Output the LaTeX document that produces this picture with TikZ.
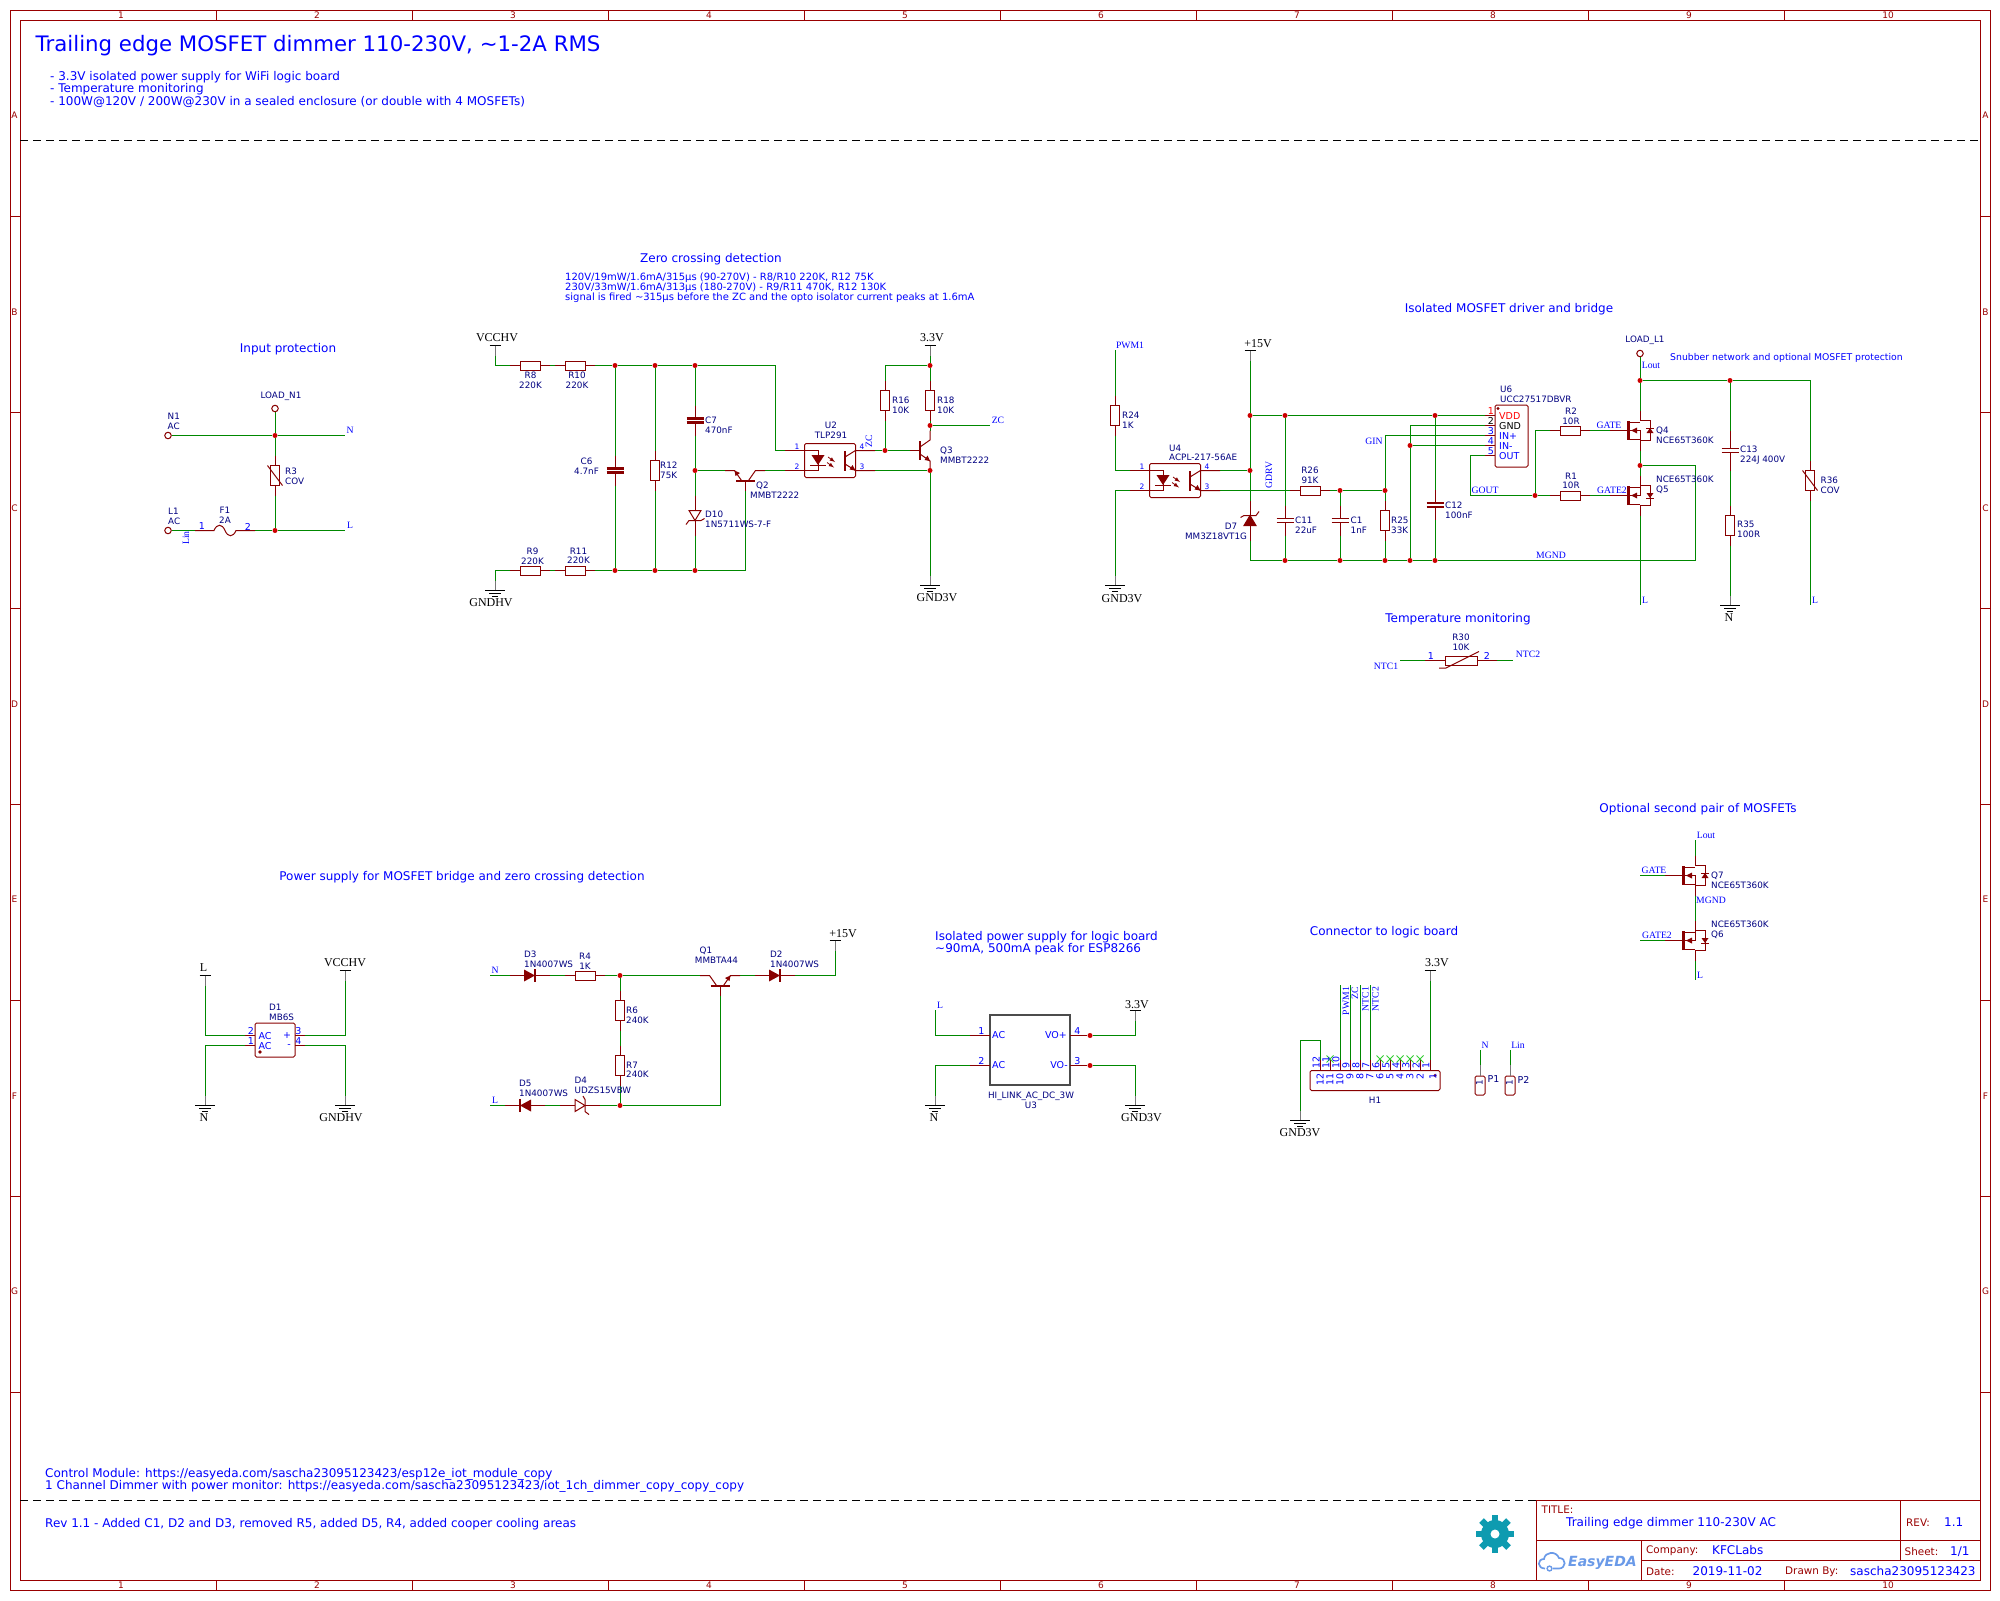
\documentclass[tikz,border=0pt]{standalone}
\usepackage{fontspec}
\setmainfont{DejaVu Sans}
\newfontfamily\netfont{Liberation Serif}
\definecolor{wirecol}{HTML}{008800}
\definecolor{partcol}{HTML}{880000}
\definecolor{framecol}{HTML}{990000}
\definecolor{dotcol}{HTML}{CC0000}
\definecolor{navycol}{HTML}{000080}
\definecolor{bluecol}{HTML}{0000FF}
\definecolor{flagcol}{HTML}{777777}
\definecolor{ncgreen}{HTML}{33CC33}
\definecolor{gearcol}{HTML}{0E9BB0}
\definecolor{logocol}{HTML}{6A9AE8}
\pgfdeclarelayer{back}
\pgfsetlayers{back,main}
\tikzset{
 wire/.style={draw=wirecol, line width=1pt},
 pinline/.style={draw=partcol, line width=1pt},
 flagline/.style={draw=flagcol, line width=1pt},
 barline/.style={draw=partcol, line width=2pt},
 frameline/.style={draw=framecol, line width=1pt},
 sepline/.style={draw=black, line width=1pt, dash pattern=on 8pt off 5pt},
 junction/.style={circle, fill=dotcol, inner sep=0pt, minimum size=5pt},
 term/.style={circle, draw=partcol, fill=white, line width=1pt, inner sep=0pt, minimum size=6.5pt},
 resbox/.style={rectangle, draw=partcol, fill=white, line width=1pt, inner sep=0pt, minimum width=20pt, minimum height=9pt},
 icbox/.style={rectangle, draw=partcol, line width=1pt, rounded corners=1.5pt, inner sep=0pt},
 partlabel/.style={font=\fontsize{8.8}{9.6}\selectfont, text=navycol, align=left, anchor=west, inner sep=0pt},
 midlabel/.style={partlabel, align=center, anchor=center},
 netlabel/.style={font=\netfont\fontsize{9.7}{10}\selectfont, text=bluecol, inner sep=0pt},
 flaglabel/.style={font=\netfont\fontsize{12}{12}\selectfont, text=black, inner sep=0pt, yshift=-0.8pt},
 pinnum/.style={font=\fontsize{9.5}{10}\selectfont, text=bluecol, inner sep=0pt},
 tinynum/.style={font=\fontsize{7.5}{8}\selectfont, text=bluecol, inner sep=0pt},
 inlabel/.style={font=\fontsize{9.5}{10}\selectfont, text=bluecol, inner sep=0pt, anchor=west},
 secttitle/.style={font=\fontsize{12}{12}\selectfont, text=bluecol, inner sep=0pt, yshift=-1pt},
 sectnote/.style={font=\fontsize{9.3}{10}\selectfont, text=bluecol, inner sep=0pt, anchor=west, align=left, yshift=-1pt},
 bignote/.style={font=\fontsize{12}{12}\selectfont, text=bluecol, inner sep=0pt, anchor=west, align=left, yshift=-1pt},
 framelbl/.style={font=\fontsize{9}{9}\selectfont, text=framecol, inner sep=0pt},
 tblbl/.style={font=\fontsize{10.4}{10.4}\selectfont, text=framecol, inner sep=0pt, anchor=west},
 tbval/.style={font=\fontsize{12}{12}\selectfont, text=bluecol, inner sep=0pt, anchor=west},
 hres/.pic={
  \node[resbox] (-box) at (0,0) {};
  \draw[pinline] (-box.west) -- (-20,0) coordinate (-a);
  \draw[pinline] (-box.east) -- (20,0) coordinate (-b);
 },
 vres/.pic={
  \node[resbox, minimum width=9pt, minimum height=20pt] (-box) at (0,0) {};
  \draw[pinline] (-box.north) -- (0,-20) coordinate (-a);
  \draw[pinline] (-box.south) -- (0,20) coordinate (-b);
 },
 varistor/.pic={
  \node[resbox, minimum width=9pt, minimum height=20pt] (-box) at (0,0) {};
  \draw[pinline] (-box.north) -- (0,-20) coordinate (-a);
  \draw[pinline] (-box.south) -- (0,20) coordinate (-b);
  \draw[pinline] (-7.5,-10) -- (7.5,10);
 },
 ntcres/.pic={
  \node[resbox, minimum width=32pt] (-box) at (0,0) {};
  \draw[pinline] (-box.west) -- (-36,0) coordinate (-a);
  \draw[pinline] (-box.east) -- (36,0) coordinate (-b);
  \draw[pinline] (-22,7.5) -- (-15,7.5) -- (18,-9);
 },
 fuse/.pic={
  \draw[pinline] (-30,0) coordinate (-a) -- (-11,0) .. controls (-8,-7) and (-3,-7) .. (0,0)
   .. controls (3,7) and (8,7) .. (11,0) -- (30,0) coordinate (-b);
 },
 diode/.pic={
  \fill[partcol] (-6,-6) -- (5,0) -- (-6,6) -- cycle;
  \draw[pinline, line width=1.6pt] (5,-6.5) -- (5,6.5);
  \draw[pinline] (-20,0) coordinate (-a) -- (-6,0) (5,0) -- (20,0) coordinate (-b);
 },
 pics/zener/.style={code={
  \path[draw=partcol, fill=#1, line width=1pt] (-5,-6) -- (5,0) -- (-5,6) -- cycle;
  \draw[pinline] (3,-9.5) -- (5,-6) -- (5,6) -- (9,9);
  \draw[pinline] (-20,0) coordinate (-a) -- (-5,0) (5,0) -- (20,0) coordinate (-b);
 }},
 pics/vcap/.style 2 args={code={
  \draw[partcol, line width=#1] (-8.5,-2.2) -- (8.5,-2.2) (-8.5,2.2) -- (8.5,2.2);
  \draw[pinline] (0,-#2) coordinate (-a) -- (0,-2.2) (0,2.2) -- (0,#2) coordinate (-b);
 }},
 bjt/.pic={
  \draw[barline] (0,-9.5) -- (0,9.5);
  \draw[pinline] (-10,0) coordinate (-b) -- (0,0);
  \draw[pinline] (0,-3.5) -- (10,-10.5) -- (10,-20) coordinate (-c);
  \draw[pinline] (0,3.5) -- (10,10.5) -- (10,20) coordinate (-e);
  \fill[partcol] (10,10.5) -- (4.5,9.5) -- (7.5,5) -- cycle;
 },
 mosfet/.pic={
  \draw[pinline] (-30,0) coordinate (-g) -- (-10,0);
  \draw[barline, line width=2.5pt] (-11.5,-9.5) -- (-11.5,9.5);
  \draw[pinline] (-10,-8.5) -- (0,-8.5) (-10,8.5) -- (0,8.5) (-10,0) -- (0,0) -- (0,10);
  \draw[pinline] (0,-20) coordinate (-d) -- (0,-10) -- (10,-10) -- (10,10) -- (0,10) -- (0,20) coordinate (-s);
  \fill[partcol] (-9,0) -- (-3,-3) -- (-3,3) -- cycle;
  \fill[partcol] (6.5,2.5) -- (13.5,2.5) -- (10,-2.5) -- cycle;
  \draw[pinline] (6,-2.5) -- (14,-2.5);
 },
 opto/.pic={
  \node[icbox, minimum width=51pt, minimum height=34pt] (-box) at (0,0) {};
  \draw[pinline] (-45,-10) coordinate (-p1) -- (-12,-10) -- (-12,10) -- (-45,10) coordinate (-p2);
  \fill[partcol] (-18.5,-5.5) -- (-5.5,-5.5) -- (-12,4.5) -- cycle;
  \draw[pinline] (-20,4.5) -- (-4,4.5);
  \draw[pinline, line width=0.8pt, -latex] (-2,-3.5) -- (5,1.5);
  \draw[pinline, line width=0.8pt, -latex] (-3,2) -- (4,7);
  \draw[barline] (15,-9.5) -- (15,10);
  \draw[pinline] (15,-3.5) -- (25.5,-10) -- (45,-10) coordinate (-p4);
  \draw[pinline] (15,3.5) -- (25.5,10) -- (45,10) coordinate (-p3);
  \fill[partcol] (25.5,10) -- (19.5,9) -- (22.5,4.5) -- cycle;
 },
 pwrflag/.pic={
  \draw[draw=black, line width=1pt] (-5.5,0) -- (5.5,0);
  \draw[flagline] (0,0) -- (0,10) coordinate (-p);
 },
 gndflag/.pic={
  \draw[flagline] (0,-10) coordinate (-p) -- (0,0);
  \draw[draw=black, line width=1pt] (-10,0) -- (10,0) (-6,3) -- (6,3) (-3,6) -- (3,6);
 },
}
\begin{document}
\begin{tikzpicture}[x=1pt, y=-1pt]
\useasboundingbox (0,0) rectangle (2000,1601);

 %%Paramaters
%% rails of the zero crossing part and of the driver, can be modified
\def\topRail{365.5}
\def\botRail{570.5}
\def\driverRail{560.5}

 %% ***Sheet frame***

\draw[frameline] (10,10.5) rectangle (1990,1590.5);
\draw[frameline] (20,20.5) rectangle (1980,1580.5);
\draw[frameline] (216,10.5) -- (216,20.5) (412,10.5) -- (412,20.5) (608,10.5) -- (608,20.5) (804,10.5) -- (804,20.5) (1000,10.5) -- (1000,20.5) (1196,10.5) -- (1196,20.5) (1392,10.5) -- (1392,20.5) (1588,10.5) -- (1588,20.5) (1784,10.5) -- (1784,20.5);
\draw[frameline] (216,1580.5) -- (216,1590.5) (412,1580.5) -- (412,1590.5) (608,1580.5) -- (608,1590.5) (804,1580.5) -- (804,1590.5) (1000,1580.5) -- (1000,1590.5) (1196,1580.5) -- (1196,1590.5) (1392,1580.5) -- (1392,1590.5) (1588,1580.5) -- (1588,1590.5) (1784,1580.5) -- (1784,1590.5);
\draw[frameline] (10,216.5) -- (20,216.5) (10,412.5) -- (20,412.5) (10,608.5) -- (20,608.5) (10,804.5) -- (20,804.5) (10,1000.5) -- (20,1000.5) (10,1196.5) -- (20,1196.5) (10,1392.5) -- (20,1392.5);
\draw[frameline] (1980,216.5) -- (1990,216.5) (1980,412.5) -- (1990,412.5) (1980,608.5) -- (1990,608.5) (1980,804.5) -- (1990,804.5) (1980,1000.5) -- (1990,1000.5) (1980,1196.5) -- (1990,1196.5) (1980,1392.5) -- (1990,1392.5);

\node[framelbl] (top1) at (121,15.5) {1}; \node[framelbl] (bot1) at (121,1585.5) {1};
\node[framelbl] (top2) at (317,15.5) {2}; \node[framelbl] (bot2) at (317,1585.5) {2};
\node[framelbl] (top3) at (513,15.5) {3}; \node[framelbl] (bot3) at (513,1585.5) {3};
\node[framelbl] (top4) at (709,15.5) {4}; \node[framelbl] (bot4) at (709,1585.5) {4};
\node[framelbl] (top5) at (905,15.5) {5}; \node[framelbl] (bot5) at (905,1585.5) {5};
\node[framelbl] (top6) at (1101,15.5) {6}; \node[framelbl] (bot6) at (1101,1585.5) {6};
\node[framelbl] (top7) at (1297,15.5) {7}; \node[framelbl] (bot7) at (1297,1585.5) {7};
\node[framelbl] (top8) at (1493,15.5) {8}; \node[framelbl] (bot8) at (1493,1585.5) {8};
\node[framelbl] (top9) at (1689,15.5) {9}; \node[framelbl] (bot9) at (1689,1585.5) {9};
\node[framelbl] (top10) at (1888,15.5) {10}; \node[framelbl] (bot10) at (1888,1585.5) {10};
\node[framelbl] (lefta) at (14.5,115) {A}; \node[framelbl] (righta) at (1985.5,115) {A};
\node[framelbl] (leftb) at (14.5,312) {B}; \node[framelbl] (rightb) at (1985.5,312) {B};
\node[framelbl] (leftc) at (14.5,508) {C}; \node[framelbl] (rightc) at (1985.5,508) {C};
\node[framelbl] (leftd) at (14.5,704) {D}; \node[framelbl] (rightd) at (1985.5,704) {D};
\node[framelbl] (lefte) at (14.5,899) {E}; \node[framelbl] (righte) at (1985.5,899) {E};
\node[framelbl] (leftf) at (14.5,1096) {F}; \node[framelbl] (rightf) at (1985.5,1096) {F};
\node[framelbl] (leftg) at (14.5,1291) {G}; \node[framelbl] (rightg) at (1985.5,1291) {G};

\draw[sepline] (20,140.5) -- (1980,140.5);
\draw[sepline] (20,1500.5) -- (1536,1500.5);

\node[secttitle, anchor=west, font=\fontsize{21.3}{21.3}\selectfont] (maintitle) at (35.5,44.5) {Trailing edge MOSFET dimmer 110-230V, \textasciitilde1-2A RMS};
\node[bignote] (featline1) at (50,76.5) {- 3.3V isolated power supply for WiFi logic board};
\node[bignote] (featline2) at (50,88.5) {- Temperature monitoring};
\node[bignote] (featline3) at (50,100.5) {- 100W@120V / 200W@230V in a sealed enclosure (or double with 4 MOSFETs)};
\node[bignote] (linkline1) at (45,1473.5) {Control Module: https://easyeda.com/sascha23095123423/esp12e\_iot\_module\_copy};
\node[bignote] (linkline2) at (45,1485.5) {1 Channel Dimmer with power monitor: https://easyeda.com/sascha23095123423/iot\_1ch\_dimmer\_copy\_copy\_copy};
\node[bignote] (revline) at (45,1523) {Rev 1.1 - Added C1, D2 and D3, removed R5, added D5, R4, added cooper cooling areas};

 %% ***Title block***

\draw[frameline] (1536,1500.5) -- (1980,1500.5) (1536,1500.5) -- (1536,1580.5) (1536,1540.5) -- (1980,1540.5) (1900,1500.5) -- (1900,1560.5) (1641,1540.5) -- (1641,1580.5) (1641,1560.5) -- (1980,1560.5);
\node[tblbl] (tbtitle) at (1541.5,1510) {TITLE:};
\node[tbval] (tbname) at (1566,1523) {Trailing edge dimmer 110-230V AC};
\node[tblbl] (tbrev) at (1906,1523) {REV:};
\node[tbval] (tbrevval) at (1944,1522) {1.1};
\node[tblbl] (tbcomp) at (1646,1550.5) {Company:};
\node[tbval] (tbcompval) at (1712,1550) {KFCLabs};
\node[tblbl] (tbsheet) at (1904.5,1552) {Sheet:};
\node[tbval] (tbsheetval) at (1950,1551.5) {1/1};
\node[tblbl] (tbdate) at (1646,1571.5) {Date:};
\node[tbval] (tbdateval) at (1692.5,1571.5) {2019-11-02};
\node[tblbl] (tbdrawn) at (1785,1571.5) {Drawn By:};
\node[tbval] (tbdrawnval) at (1850,1571.5) {sascha23095123423};

%% logo and gear
\draw[logocol, line width=1.7pt] (1545,1568.5) .. controls (1537,1568.5) and (1537,1559) .. (1544,1559) .. controls (1545,1551.5) and (1556,1550.5) .. (1559,1558) .. controls (1567,1558) and (1566,1568.5) .. (1559,1568.5) -- (1553,1568.5);
\draw[logocol, line width=1.4pt] (1549.5,1568.5) circle (2.4);
\node[inner sep=0pt, anchor=west, text=logocol, font=\fontsize{14}{14}\selectfont\bfseries\itshape] (logotext) at (1568,1563) {EasyEDA};
\fill[gearcol] (1495,1534) circle (14);
\draw[gearcol, line width=6.5pt] (1495,1515) -- (1495,1553);
\draw[gearcol, line width=6.5pt] (1476,1534) -- (1514,1534);
\draw[gearcol, line width=6.5pt] (1481.5,1520.5) -- (1508.5,1547.5);
\draw[gearcol, line width=6.5pt] (1481.5,1547.5) -- (1508.5,1520.5);
\fill[white] (1495,1534) circle (4.5);

 %% ***Input protection***

\node[secttitle] (inptitle) at (288,348) {Input protection};
\node[term] (n1) at (168,435.5) {};
\node[term] (loadn) at (275,408.5) {};
\node[term] (l1) at (168,530.5) {};
\node[junction] (jn) at (275,435.5) {};
\node[junction] (jl) at (275,530.5) {};
\coordinate (nout) at (345,435.5);
\coordinate (lout) at (345,530.5);
\pic (r3) at (275,475.5) {varistor};
\pic (f1) at (225,530.5) {fuse};
\node[midlabel] (loadnlbl) at (281,396) {LOAD\_N1};
\node[partlabel] (n1lbl) at (167.5,421.5) {N1\\AC};
\node[partlabel] (l1lbl) at (168,516.5) {L1\\AC};
\node[partlabel] (r3lbl) at (285,476) {R3\\COV};
\node[midlabel] (f1lbl) at (225,515) {F1\\2A};
\node[pinnum] (f1pin1) at (202,526.5) {1};
\node[pinnum] (f1pin2) at (248,526.5) {2};
\node[netlabel] (nnet) at (350,430) {N};
\node[netlabel] (lnet) at (350,525) {L};
\node[netlabel, rotate=90] (linnet) at (186,538) {Lin};
\begin{pgfonlayer}{back}
\draw[wire] (n1) -- (jn) -- (nout);
\draw[wire] (loadn) -- (jn) -- (r3-a);
\draw[wire] (r3-b) -- (jl);
\draw[wire] (l1) -- (f1-a);
\draw[wire] (f1-b) -- (jl) -- (lout);
\end{pgfonlayer}

 %% ***Zero crossing detection***

\node[secttitle] (zctitle) at (711,258) {Zero crossing detection};
\node[sectnote, font=\fontsize{10}{10}\selectfont] (zcnote) at (565,287) {120V/19mW/1.6mA/315µs (90-270V) - R8/R10 220K, R12 75K\\230V/33mW/1.6mA/313µs (180-270V) - R9/R11 470K, R12 130K\\signal is fired \textasciitilde315µs before the ZC and the opto isolator current peaks at 1.6mA};

\pic (vcchv) at (495,345.5) {pwrflag};
\pic (gndhv) at (495,590.5) {gndflag};
\pic (v33a) at (930,345.5) {pwrflag};
\pic (gnd3a) at (930,585.5) {gndflag};
\node[flaglabel] (vcchvlbl) at (497,337) {VCCHV};
\node[flaglabel] (gndhvlbl) at (491,602) {GNDHV};
\node[flaglabel] (v33albl) at (932,337) {3.3V};
\node[flaglabel] (gnd3albl) at (937,597) {GND3V};

\pic (r8) at (530,\topRail) {hres};
\pic (r10) at (575,\topRail) {hres};
\pic (r9) at (530,\botRail) {hres};
\pic (r11) at (575,\botRail) {hres};
\pic (c6) at (615,470.5) {vcap={2.8pt}{15}};
\pic (r12) at (655,470.5) {vres};
\pic (c7) at (695,420.5) {vcap={2.8pt}{15}};
\pic[rotate=-90] (d10) at (695,515.5) {zener=white};
\pic[rotate=90, yscale=-1] (q2) at (745,480.5) {bjt};
\pic (u2) at (830,460.5) {opto};
\pic (r16) at (885,400.5) {vres};
\pic (r18) at (930,400.5) {vres};
\pic (q3) at (920,450.5) {bjt};

\node[junction] (jt1) at (615,\topRail) {};
\node[junction] (jt2) at (655,\topRail) {};
\node[junction] (jt3) at (695,\topRail) {};
\node[junction] (jb1) at (615,\botRail) {};
\node[junction] (jb2) at (655,\botRail) {};
\node[junction] (jb3) at (695,\botRail) {};
\node[junction] (jm) at (695,470.5) {};
\node[junction] (jq) at (885,450.5) {};
\node[junction] (jr) at (930,\topRail) {};
\node[junction] (jz) at (930,425.5) {};
\node[junction] (je) at (930,470.5) {};
\coordinate (cz) at (775,\topRail);
\coordinate (zcout) at (990,425.5);

\node[midlabel] (r8lbl) at (530.5,380.5) {R8\\220K};
\node[midlabel] (r10lbl) at (577,380.5) {R10\\220K};
\node[midlabel] (r9lbl) at (532.5,556) {R9\\220K};
\node[midlabel] (r11lbl) at (578.5,556) {R11\\220K};
\node[midlabel] (c6lbl) at (586.5,466) {C6\\4.7nF};
\node[partlabel] (r12lbl) at (660,470.5) {R12\\75K};
\node[partlabel] (c7lbl) at (705,425) {C7\\470nF};
\node[partlabel] (d10lbl) at (705,519.5) {D10\\1N5711WS-7-F};
\node[partlabel] (q2lbl) at (750,490.5) {\hspace{6pt}Q2\\MMBT2222};
\node[midlabel] (u2lbl) at (831,430.5) {U2\\TLP291};
\node[partlabel] (r16lbl) at (892,405) {R16\\10K};
\node[partlabel] (r18lbl) at (937,405) {R18\\10K};
\node[partlabel] (q3lbl) at (940,455.5) {Q3\\MMBT2222};
\node[tinynum] (u2pin1) at (797,447) {1};
\node[tinynum] (u2pin2) at (797,467) {2};
\node[tinynum] (u2pin4) at (862,447) {4};
\node[tinynum] (u2pin3) at (862,467) {3};
\node[netlabel, rotate=90] (zcnet1) at (869,441) {ZC};
\node[netlabel] (zcnet2) at (998,420) {ZC};

\begin{pgfonlayer}{back}
\draw[wire] (vcchv-p) |- (r8-a);
\draw[wire] (r8-b) -- (r10-a);
\draw[wire] (r10-b) -- (jt1) -- (jt2) -- (jt3) -- (cz) |- (u2-p1);
\draw[wire] (gndhv-p) |- (r9-a);
\draw[wire] (r9-b) -- (r11-a);
\draw[wire] (r11-b) -- (jb1) -- (jb2) -- (jb3) -| (q2-b);
\draw[wire] (jt1) -- (c6-a);
\draw[wire] (c6-b) -- (jb1);
\draw[wire] (jt2) -- (r12-a);
\draw[wire] (r12-b) -- (jb2);
\draw[wire] (jt3) -- (c7-a);
\draw[wire] (c7-b) -- (jm) -- (d10-a);
\draw[wire] (d10-b) -- (jb3);
\draw[wire] (jm) -- (q2-e);
\draw[wire] (q2-c) -- (u2-p2);
\draw[wire] (u2-p4) -- (jq) -- (q3-b);
\draw[wire] (jq) -- (r16-b);
\draw[wire] (r16-a) |- (jr);
\draw[wire] (v33a-p) -- (jr) -- (r18-a);
\draw[wire] (r18-b) -- (jz) -- (q3-c);
\draw[wire] (jz) -- (zcout);
\draw[wire] (u2-p3) -- (je);
\draw[wire] (q3-e) -- (je) -- (gnd3a-p);
\end{pgfonlayer}

 %% ***Isolated MOSFET driver and bridge***

\node[secttitle] (drvtitle) at (1509,308.5) {Isolated MOSFET driver and bridge};
\node[sectnote] (snubnote) at (1670,357) {Snubber network and optional MOSFET protection};

\coordinate (pwmin) at (1115,350);
\pic (r24) at (1115,415.5) {vres};
\pic (u4) at (1175,480.5) {opto};
\pic (gnd3b) at (1115,585.5) {gndflag};
\pic (v15a) at (1250,350.5) {pwrflag};
\pic[rotate=90] (d7) at (1250,520.5) {zener=partcol};
\pic (c11) at (1285,520.5) {vcap={1.5pt}{15}};
\pic (r26) at (1310,490.5) {hres};
\pic (c1) at (1340,520.5) {vcap={1.5pt}{15}};
\pic (r25) at (1385,520.5) {vres};
\pic (c12) at (1435,505) {vcap={1.5pt}{15}};
\pic (r2) at (1570,430.5) {hres};
\pic (r1) at (1570,495.5) {hres};
\pic (q4) at (1640,430.5) {mosfet};
\pic[yscale=-1] (q5) at (1640,495.5) {mosfet};
\pic (c13) at (1730,450.5) {vcap={1.5pt}{20}};
\pic (r35) at (1730,525.5) {vres};
\pic (ngnda) at (1730,605.5) {gndflag};
\pic (r36) at (1810,480.5) {varistor};
\node[term] (loadl) at (1640,353.5) {};

\node[icbox, minimum width=33pt, minimum height=62pt] (u6) at (1511.5,436) {};
\draw[pinline] (1495,415.5) -- (1485,415.5) coordinate (u6p1);
\draw[pinline] (1495,425.5) -- (1485,425.5) coordinate (u6p2);
\draw[pinline] (1495,435.5) -- (1485,435.5) coordinate (u6p3);
\draw[pinline] (1495,445.5) -- (1485,445.5) coordinate (u6p4);
\draw[pinline] (1495,455.5) -- (1485,455.5) coordinate (u6p5);
\fill[partcol] (1498,408.5) circle (1.7);

\node[junction] (jv0) at (1250,415.5) {};
\node[junction] (jv1) at (1285,415.5) {};
\node[junction] (jv2) at (1435,415.5) {};
\node[junction] (jo) at (1250,470.5) {};
\node[junction] (jc1) at (1340,490.5) {};
\node[junction] (jg) at (1385,490.5) {};
\node[junction] (jg2) at (1410,445.5) {};
\node[junction] (jr1) at (1285,\driverRail) {};
\node[junction] (jr2) at (1340,\driverRail) {};
\node[junction] (jr3) at (1385,\driverRail) {};
\node[junction] (jr4) at (1410,\driverRail) {};
\node[junction] (jr5) at (1435,\driverRail) {};
\node[junction] (jg3) at (1535,495.5) {};
\node[junction] (js) at (1640,380.5) {};
\node[junction] (js2) at (1730,380.5) {};
\node[junction] (jmg) at (1640,465.5) {};
\coordinate (cg) at (1470,495.5);
\coordinate (cm) at (1695,\driverRail);
\coordinate (q5out) at (1640,605);
\coordinate (r36out) at (1810,605);

\node[netlabel] (pwmnet1) at (1130,345) {PWM1};
\node[partlabel] (r24lbl) at (1122,420.5) {R24\\1K};
\node[partlabel] (u4lbl) at (1169,453) {U4\\ACPL-217-56AE};
\node[tinynum] (u4pin1) at (1142,466.5) {1};
\node[tinynum] (u4pin2) at (1142,487) {2};
\node[tinynum] (u4pin4) at (1207,466.5) {4};
\node[tinynum] (u4pin3) at (1207,487) {3};
\node[flaglabel] (gnd3blbl) at (1122,597.5) {GND3V};
\node[flaglabel] (v15albl) at (1258,342.5) {+15V};
\node[netlabel, rotate=90] (gdrvnet) at (1269,475) {GDRV};
\node[midlabel] (d7lbl) at (1231,526) {D7};
\node[midlabel] (d7val) at (1216,536) {MM3Z18VT1G};
\node[partlabel] (c11lbl) at (1295,525) {C11\\22uF};
\node[midlabel] (r26lbl) at (1310,475.5) {R26\\91K};
\node[partlabel] (c1lbl) at (1350.5,525) {C1\\1nF};
\node[partlabel] (r25lbl) at (1391,525) {R25\\33K};
\node[netlabel] (ginnet) at (1374,441) {GIN};
\node[partlabel] (c12lbl) at (1445,510) {C12\\100nF};
\node[partlabel] (u6lbl) at (1500,394.5) {U6\\UCC27517DBVR};
\node[pinnum, text=red] (u6pin1) at (1491,411) {1};
\node[pinnum, text=black] (u6pin2) at (1491,421) {2};
\node[pinnum] (u6pin3) at (1491,431) {3};
\node[pinnum] (u6pin4) at (1491,441) {4};
\node[pinnum] (u6pin5) at (1491,451) {5};
\node[inlabel, text=red] (u6vdd) at (1499,416) {VDD};
\node[inlabel, text=black] (u6gnd) at (1499,426) {GND};
\node[inlabel] (u6inp) at (1499,436) {IN+};
\node[inlabel] (u6inn) at (1499,446) {IN-};
\node[inlabel] (u6out) at (1499,456) {OUT};
\node[netlabel] (goutnet) at (1485,490) {GOUT};
\node[midlabel] (r2lbl) at (1571,416) {R2\\10R};
\node[midlabel] (r1lbl) at (1571,481) {R1\\10R};
\node[netlabel] (gatenet) at (1609,425) {GATE};
\node[netlabel] (gate2net) at (1612,490) {GATE2};
\node[partlabel] (q4lbl) at (1656,435) {Q4\\NCE65T360K};
\node[partlabel] (q5lbl) at (1656,484.5) {NCE65T360K\\Q5};
\node[midlabel] (loadllbl) at (1645,340.5) {LOAD\_L1};
\node[netlabel] (loutnet) at (1651,365) {Lout};
\node[netlabel] (mgndnet) at (1551,555) {MGND};
\node[netlabel] (lnet2) at (1645,600) {L};
\node[partlabel] (c13lbl) at (1740,455) {C13\\224J 400V};
\node[partlabel] (r35lbl) at (1737,529.5) {R35\\100R};
\node[flaglabel] (ngndalbl) at (1729,617) {N};
\node[partlabel] (r36lbl) at (1820.5,485) {R36\\COV};
\node[netlabel] (lnet3) at (1815,600) {L};

\begin{pgfonlayer}{back}
\draw[wire] (pwmin) -- (r24-a);
\draw[wire] (r24-b) |- (u4-p1);
\draw[wire] (gnd3b-p) |- (u4-p2);
\draw[wire] (u4-p4) -- (jo);
\draw[wire] (u4-p3) -- (r26-a);
\draw[wire] (v15a-p) -- (jv0) -- (jo) -- (d7-b);
\draw[wire] (jv0) -- (jv1) -- (jv2) -- (u6p1);
\draw[wire] (d7-a) |- (jr1) -- (jr2) -- (jr3) -- (jr4) -- (jr5) -- (cm) |- (jmg);
\draw[wire] (jv1) -- (c11-a);
\draw[wire] (c11-b) -- (jr1);
\draw[wire] (r26-b) -- (jc1) -- (jg);
\draw[wire] (jc1) -- (c1-a);
\draw[wire] (c1-b) -- (jr2);
\draw[wire] (jg) -- (r25-a);
\draw[wire] (r25-b) -- (jr3);
\draw[wire] (jg) |- (u6p3);
\draw[wire] (jr4) -- (jg2) |- (u6p2);
\draw[wire] (jg2) -- (u6p4);
\draw[wire] (jv2) -- (c12-a);
\draw[wire] (c12-b) -- (jr5);
\draw[wire] (u6p5) -| (cg) -- (jg3) -- (r1-a);
\draw[wire] (jg3) |- (r2-a);
\draw[wire] (r2-b) -- (q4-g);
\draw[wire] (r1-b) -- (q5-g);
\draw[wire] (loadl) -- (js) -- (q4-d);
\draw[wire] (q4-s) -- (jmg) -- (q5-s);
\draw[wire] (q5-d) -- (q5out);
\draw[wire] (js) -- (js2) -| (r36-a);
\draw[wire] (js2) -- (c13-a);
\draw[wire] (c13-b) -- (r35-a);
\draw[wire] (r35-b) -- (ngnda-p);
\draw[wire] (r36-b) -- (r36out);
\end{pgfonlayer}

 %% ***Temperature monitoring***

\node[secttitle] (temptitle) at (1458,618.5) {Temperature monitoring};
\pic (r30) at (1461,660.5) {ntcres};
\coordinate (ntc1end) at (1400,660.5);
\coordinate (ntc2end) at (1513,660.5);
\node[midlabel] (r30lbl) at (1461,642.5) {R30\\10K};
\node[pinnum] (r30pin1) at (1431,656) {1};
\node[pinnum] (r30pin2) at (1487,656) {2};
\node[netlabel] (ntc1net) at (1386,666) {NTC1};
\node[netlabel] (ntc2net) at (1528,654) {NTC2};
\begin{pgfonlayer}{back}
\draw[wire] (ntc1end) -- (r30-a);
\draw[wire] (r30-b) -- (ntc2end);
\end{pgfonlayer}

 %% ***Optional second pair of MOSFETs***

\node[secttitle] (opttitle) at (1698,808.5) {Optional second pair of MOSFETs};
\pic (q7) at (1695,875.5) {mosfet};
\pic[yscale=-1] (q6) at (1695,940.5) {mosfet};
\coordinate (q7top) at (1695,840);
\coordinate (q6bot) at (1695,980);
\coordinate (gatein) at (1640,875.5);
\coordinate (gate2in) at (1640,940.5);
\node[netlabel] (loutnet2) at (1706,835) {Lout};
\node[netlabel] (gatenet2) at (1654,870) {GATE};
\node[netlabel] (gate2net2) at (1657,935) {GATE2};
\node[netlabel] (mgndnet2) at (1711,900) {MGND};
\node[netlabel] (lnet4) at (1700,975) {L};
\node[partlabel] (q7lbl) at (1711,880) {Q7\\NCE65T360K};
\node[partlabel] (q6lbl) at (1711,929.5) {NCE65T360K\\Q6};
\begin{pgfonlayer}{back}
\draw[wire] (q7top) -- (q7-d);
\draw[wire] (q7-s) -- (q6-s);
\draw[wire] (q6-d) -- (q6bot);
\draw[wire] (gatein) -- (q7-g);
\draw[wire] (gate2in) -- (q6-g);
\end{pgfonlayer}

 %% ***Power supply for MOSFET bridge and zero crossing detection***

\node[secttitle] (pstitle) at (462,876) {Power supply for MOSFET bridge and zero crossing detection};

\pic (lflag) at (205,975.5) {pwrflag};
\pic (ngndb) at (205,1105.5) {gndflag};
\pic (vcchvb) at (345,970.5) {pwrflag};
\pic (gndhvb) at (345,1105.5) {gndflag};
\node[flaglabel] (lflaglbl) at (203.5,967) {L};
\node[flaglabel] (ngndblbl) at (204,1117) {N};
\node[flaglabel] (vcchvblbl) at (345,962) {VCCHV};
\node[flaglabel] (gndhvblbl) at (341,1117) {GNDHV};
\node[icbox, minimum width=40pt, minimum height=34pt] (d1) at (275,1040) {};
\draw[pinline] (255,1035.5) -- (245,1035.5) coordinate (d1p2);
\draw[pinline] (255,1045.5) -- (245,1045.5) coordinate (d1p1);
\draw[pinline] (295,1035.5) -- (305,1035.5) coordinate (d1p3);
\draw[pinline] (295,1045.5) -- (305,1045.5) coordinate (d1p4);
\fill[partcol] (260,1052) circle (1.8);
\node[partlabel] (d1lbl) at (269,1012.5) {D1\\MB6S};
\node[pinnum] (d1pin2) at (251,1031) {2};
\node[pinnum] (d1pin1) at (251,1041) {1};
\node[pinnum] (d1pin3) at (298.5,1031) {3};
\node[pinnum] (d1pin4) at (298.5,1041) {4};
\node[pinnum] (d1ac1) at (265,1036) {AC};
\node[pinnum] (d1ac2) at (265,1046) {AC};
\node[pinnum] (d1plus) at (287,1036) {+};
\node[pinnum] (d1minus) at (289,1046) {-};
\begin{pgfonlayer}{back}
\draw[wire] (lflag-p) |- (d1p2);
\draw[wire] (ngndb-p) |- (d1p1);
\draw[wire] (vcchvb-p) |- (d1p3);
\draw[wire] (gndhvb-p) |- (d1p4);
\end{pgfonlayer}

\coordinate (nin) at (490,975.5);
\coordinate (lin) at (490,1105.5);
\pic (d3) at (530,975.5) {diode};
\pic (r4) at (585,975.5) {hres};
\pic[rotate=90] (q1) at (720,985.5) {bjt};
\pic (d2) at (775,975.5) {diode};
\pic (v15b) at (835,940.5) {pwrflag};
\pic (r6) at (620,1010.5) {vres};
\pic (r7) at (620,1065.5) {vres};
\pic[rotate=180] (d5) at (525,1105.5) {diode};
\pic (d4) at (580,1105.5) {zener=white};
\node[junction] (j4a) at (620,975.5) {};
\node[junction] (j4b) at (620,1105.5) {};
\coordinate (cq) at (720,1105.5);
\node[netlabel] (nnet2) at (495,970) {N};
\node[netlabel] (lnet5) at (495,1100) {L};
\node[partlabel] (d3lbl) at (524,959) {D3\\1N4007WS};
\node[midlabel] (r4lbl) at (585,961) {R4\\1K};
\node[midlabel] (q1lbl) at (706,950.5) {Q1};
\node[midlabel] (q1val) at (716.5,960.5) {MMBTA44};
\node[partlabel] (d2lbl) at (770,959) {D2\\1N4007WS};
\node[flaglabel] (v15blbl) at (843,932.5) {+15V};
\node[partlabel] (r6lbl) at (626,1015) {R6\\240K};
\node[partlabel] (r7lbl) at (626,1070) {R7\\240K};
\node[partlabel] (d5lbl) at (519,1088.5) {D5\\1N4007WS};
\node[partlabel] (d4lbl) at (574.5,1085.5) {D4\\UDZS15VBW};
\begin{pgfonlayer}{back}
\draw[wire] (nin) -- (d3-a);
\draw[wire] (d3-b) -- (r4-a);
\draw[wire] (r4-b) -- (j4a) -- (q1-c);
\draw[wire] (q1-e) -- (d2-a);
\draw[wire] (d2-b) -| (v15b-p);
\draw[wire] (j4a) -- (r6-a);
\draw[wire] (r6-b) -- (r7-a);
\draw[wire] (r7-b) -- (j4b);
\draw[wire] (lin) -- (d5-b);
\draw[wire] (d5-a) -- (d4-a);
\draw[wire] (d4-b) -- (j4b) -- (cq) -- (q1-b);
\end{pgfonlayer}

 %% ***Isolated power supply for logic board***

\node[secttitle, anchor=west, align=left, font=\fontsize{12}{12}\selectfont] (logictitle) at (935,942.5) {Isolated power supply for logic board\\\textasciitilde90mA, 500mA peak for ESP8266};
\node[draw=black!70, line width=1.2pt, inner sep=0pt, minimum width=80pt, minimum height=70pt] (u3) at (1030,1050) {};
\draw[pinline] (990,1035.5) -- (970,1035.5) coordinate (u3p1);
\draw[pinline] (990,1065.5) -- (970,1065.5) coordinate (u3p2);
\node[junction] (j3a) at (1090,1035.5) {};
\node[junction] (j3b) at (1090,1065.5) {};
\draw[pinline] (1070,1035.5) -- (j3a);
\draw[pinline] (1070,1065.5) -- (j3b);
\coordinate (u3l) at (935,1010);
\pic (ngndc) at (935,1105.5) {gndflag};
\pic (v33b) at (1135,1010.5) {pwrflag};
\pic (gnd3c) at (1135,1105.5) {gndflag};
\node[netlabel] (lnet6) at (940,1005.5) {L};
\node[flaglabel] (ngndclbl) at (934,1117) {N};
\node[flaglabel] (v33blbl) at (1137,1004) {3.3V};
\node[flaglabel] (gnd3clbl) at (1141.5,1117) {GND3V};
\node[pinnum] (u3pin1) at (981.5,1031) {1};
\node[pinnum] (u3pin2) at (981.5,1061) {2};
\node[pinnum] (u3pin4) at (1077.5,1031) {4};
\node[pinnum] (u3pin3) at (1077.5,1061) {3};
\node[inlabel] (u3ac1) at (992,1035.5) {AC};
\node[inlabel] (u3ac2) at (992,1065.5) {AC};
\node[pinnum, anchor=east] (u3vop) at (1067,1035.5) {VO+};
\node[pinnum, anchor=east] (u3von) at (1068,1065.5) {VO-};
\node[midlabel] (u3lbl) at (1031,1100.5) {HI\_LINK\_AC\_DC\_3W\\U3};
\begin{pgfonlayer}{back}
\draw[wire] (u3l) |- (u3p1);
\draw[wire] (ngndc-p) |- (u3p2);
\draw[wire] (j3a) -| (v33b-p);
\draw[wire] (j3b) -| (gnd3c-p);
\end{pgfonlayer}

 %% ***Connector to logic board***

\node[secttitle] (conntitle) at (1384,931) {Connector to logic board};
\node[icbox, minimum width=130pt, minimum height=20pt] (h1) at (1375,1080.5) {};
\fill[partcol] (1435,1075.5) circle (1.7);
\draw[pinline] (1430,1070) -- (1430,1060) coordinate (h1p1);
\draw[pinline] (1420,1070) -- (1420,1060) coordinate (h1p2);
\draw[pinline] (1410,1070) -- (1410,1060) coordinate (h1p3);
\draw[pinline] (1400,1070) -- (1400,1060) coordinate (h1p4);
\draw[pinline] (1390,1070) -- (1390,1060) coordinate (h1p5);
\draw[pinline] (1380,1070) -- (1380,1060) coordinate (h1p6);
\draw[pinline] (1370,1070) -- (1370,1060) coordinate (h1p7);
\draw[pinline] (1360,1070) -- (1360,1060) coordinate (h1p8);
\draw[pinline] (1350,1070) -- (1350,1060) coordinate (h1p9);
\draw[pinline] (1340,1070) -- (1340,1060) coordinate (h1p10);
\draw[pinline] (1330,1070) -- (1330,1060) coordinate (h1p11);
\draw[pinline] (1320,1070) -- (1320,1060) coordinate (h1p12);
%% no connect marks
\draw[ncgreen, line width=0.8pt] (1326.5,1055.5) -- (1333.5,1062.5) (1326.5,1062.5) -- (1333.5,1055.5);
\draw[ncgreen, line width=0.8pt] (1376.5,1055.5) -- (1383.5,1062.5) (1376.5,1062.5) -- (1383.5,1055.5);
\draw[ncgreen, line width=0.8pt] (1386.5,1055.5) -- (1393.5,1062.5) (1386.5,1062.5) -- (1393.5,1055.5);
\draw[ncgreen, line width=0.8pt] (1396.5,1055.5) -- (1403.5,1062.5) (1396.5,1062.5) -- (1403.5,1055.5);
\draw[ncgreen, line width=0.8pt] (1406.5,1055.5) -- (1413.5,1062.5) (1406.5,1062.5) -- (1413.5,1055.5);
\draw[ncgreen, line width=0.8pt] (1416.5,1055.5) -- (1423.5,1062.5) (1416.5,1062.5) -- (1423.5,1055.5);
%% outer pin numbers
\node[pinnum, rotate=90, anchor=west] (h1out1) at (1426,1069) {1};
\node[pinnum, rotate=90, anchor=west] (h1out2) at (1416,1069) {2};
\node[pinnum, rotate=90, anchor=west] (h1out3) at (1406,1069) {3};
\node[pinnum, rotate=90, anchor=west] (h1out4) at (1396,1069) {4};
\node[pinnum, rotate=90, anchor=west] (h1out5) at (1386,1069) {5};
\node[pinnum, rotate=90, anchor=west] (h1out6) at (1376,1069) {6};
\node[pinnum, rotate=90, anchor=west] (h1out7) at (1366,1069) {7};
\node[pinnum, rotate=90, anchor=west] (h1out8) at (1356,1069) {8};
\node[pinnum, rotate=90, anchor=west] (h1out9) at (1346,1069) {9};
\node[pinnum, rotate=90, anchor=west] (h1out10) at (1336,1069) {10};
\node[pinnum, rotate=90, anchor=west] (h1out11) at (1326,1069) {11};
\node[pinnum, rotate=90, anchor=west] (h1out12) at (1316,1069) {12};
%% inner pin numbers
\node[pinnum, rotate=90, anchor=east] (h1in1) at (1433,1073) {1};
\node[pinnum, rotate=90, anchor=east] (h1in2) at (1420,1073) {2};
\node[pinnum, rotate=90, anchor=east] (h1in3) at (1410,1073) {3};
\node[pinnum, rotate=90, anchor=east] (h1in4) at (1400,1073) {4};
\node[pinnum, rotate=90, anchor=east] (h1in5) at (1390,1073) {5};
\node[pinnum, rotate=90, anchor=east] (h1in6) at (1380,1073) {6};
\node[pinnum, rotate=90, anchor=east] (h1in7) at (1370,1073) {7};
\node[pinnum, rotate=90, anchor=east] (h1in8) at (1360,1073) {8};
\node[pinnum, rotate=90, anchor=east] (h1in9) at (1350,1073) {9};
\node[pinnum, rotate=90, anchor=east] (h1in10) at (1340,1073) {10};
\node[pinnum, rotate=90, anchor=east] (h1in11) at (1330,1073) {11};
\node[pinnum, rotate=90, anchor=east] (h1in12) at (1320,1073) {12};
\node[partlabel, anchor=center] (h1lbl) at (1375,1100.5) {H1};

\coordinate (h1c1) at (1300,1040.5);
\coordinate (pwmend) at (1340,985);
\coordinate (zcend) at (1350,985);
\coordinate (ntc1con) at (1360,985);
\coordinate (ntc2con) at (1370,985);
\pic (v33c) at (1430,970.5) {pwrflag};
\pic (gnd3d) at (1300,1120.5) {gndflag};
\node[flaglabel] (v33clbl) at (1437,962) {3.3V};
\node[flaglabel] (gnd3dlbl) at (1300,1132) {GND3V};
\node[netlabel, rotate=90] (pwmnet2) at (1346,1001) {PWM1};
\node[netlabel, rotate=90] (zcnet3) at (1355,993) {ZC};
\node[netlabel, rotate=90] (ntc1net2) at (1365.5,999) {NTC1};
\node[netlabel, rotate=90] (ntc2net2) at (1375.5,999) {NTC2};
\begin{pgfonlayer}{back}
\draw[wire] (h1p12) |- (h1c1) -- (gnd3d-p);
\draw[wire] (h1p10) -- (pwmend);
\draw[wire] (h1p9) -- (zcend);
\draw[wire] (h1p8) -- (ntc1con);
\draw[wire] (h1p7) -- (ntc2con);
\draw[wire] (h1p1) -- (v33c-p);
\end{pgfonlayer}

\node[icbox, minimum width=10pt, minimum height=19pt] (p1) at (1480,1085.5) {};
\node[icbox, minimum width=10pt, minimum height=19pt] (p2) at (1510,1085.5) {};
\draw[flagline] (p1.north) -- (1480,1065) coordinate (p1p);
\draw[flagline] (p2.north) -- (1510,1065) coordinate (p2p);
\coordinate (p1end) at (1480,1050);
\coordinate (p2end) at (1510,1050);
\node[partlabel, rotate=90, anchor=center] (p1pin) at (1479.5,1083) {1};
\node[partlabel, rotate=90, anchor=center] (p2pin) at (1509.5,1083) {1};
\node[partlabel, font=\fontsize{9.5}{10}\selectfont] (p1lbl) at (1487.5,1079.5) {P1};
\node[partlabel, font=\fontsize{9.5}{10}\selectfont] (p2lbl) at (1517.5,1079.5) {P2};
\node[netlabel] (nnet3) at (1485,1045) {N};
\node[netlabel] (linnet2) at (1518,1045) {Lin};
\begin{pgfonlayer}{back}
\draw[wire] (p1p) -- (p1end);
\draw[wire] (p2p) -- (p2end);
\end{pgfonlayer}

 \end{tikzpicture}
\end{document}
